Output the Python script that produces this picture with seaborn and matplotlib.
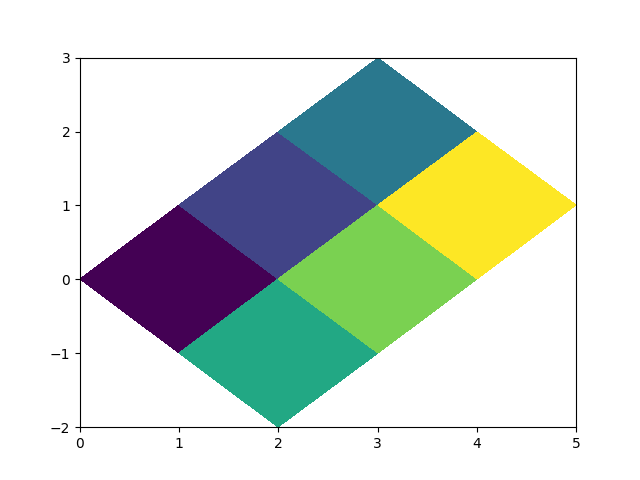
import matplotlib.pyplot as plt
import numpy as np
import seaborn as sns

# grid corner coordinates (3 rows x 4 columns of vertices)
x_grid = [
    [0, 1, 2, 3],
    [1, 2, 3, 4],
    [2, 3, 4, 5],
]
y_grid = [
    [0, 1, 2, 3],
    [-1, 0, 1, 2],
    [-2, -1, 0, 1],
]
# cell values (2 rows x 3 columns)
cell_values = [
    [0, 1, 2],
    [3, 4, 5],
]

cmap = sns.color_palette("viridis", as_cmap=True)

fig, ax = plt.subplots(figsize=(6.4, 4.8), dpi=100)
ax.pcolormesh(np.array(x_grid), np.array(y_grid), np.array(cell_values), cmap=cmap)
ax.set_xlim(0, 5)
ax.set_ylim(-2, 3)

fig.savefig("out.png", dpi=100)
